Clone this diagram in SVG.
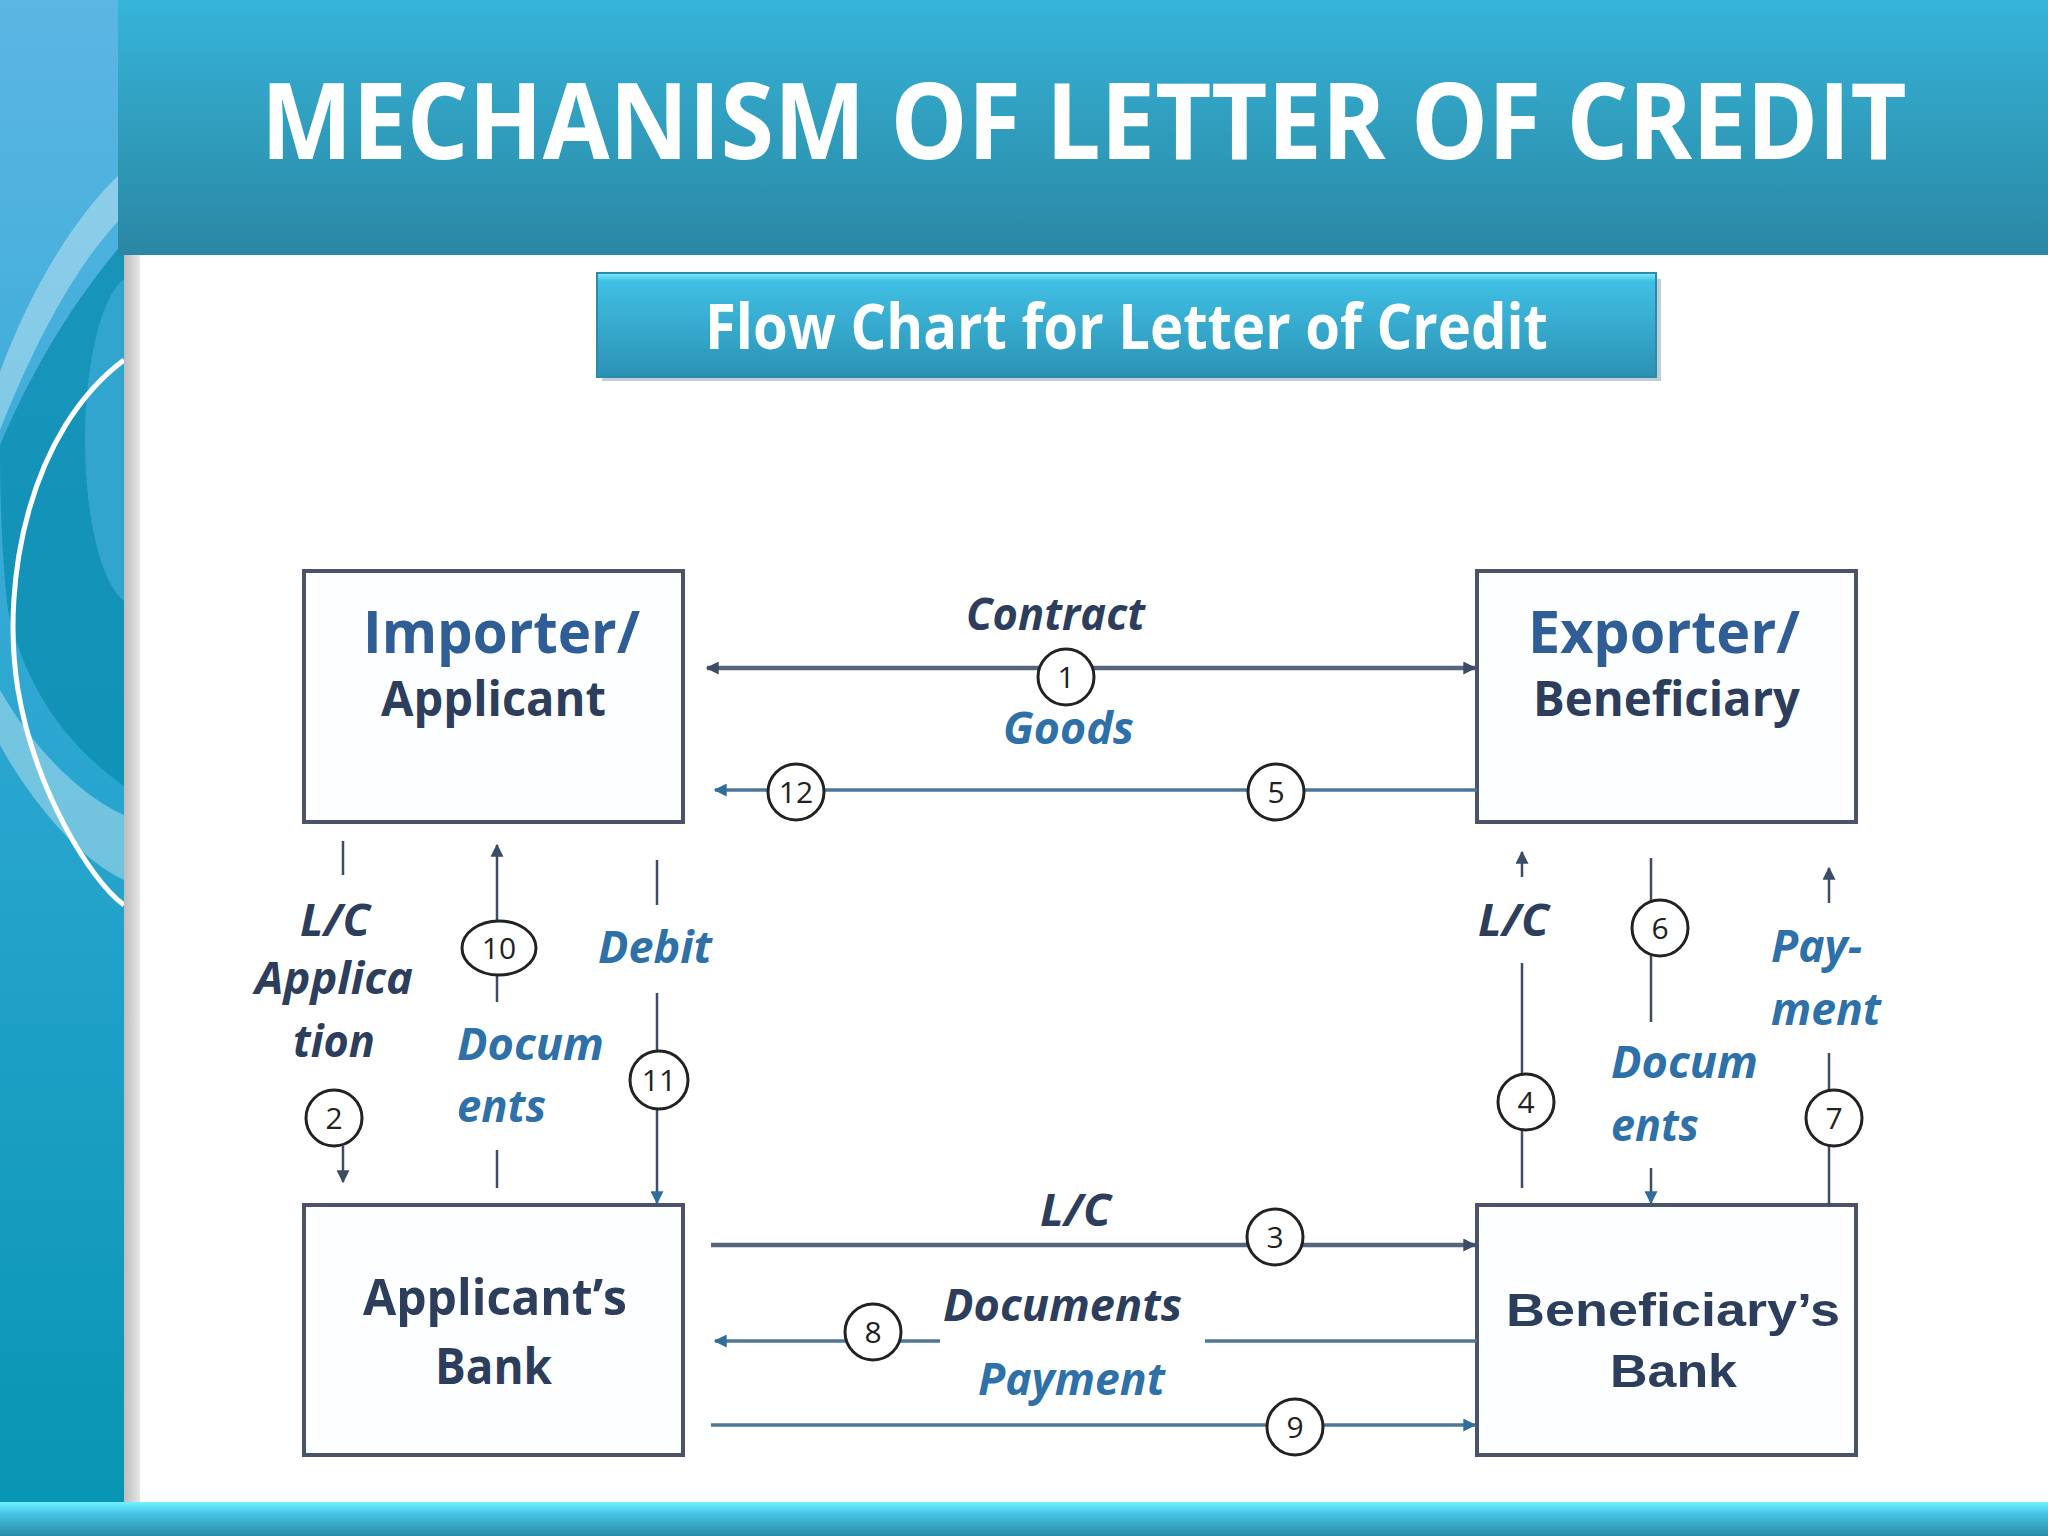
<svg xmlns="http://www.w3.org/2000/svg" width="2048" height="1536" viewBox="0 0 2048 1536">
<defs>
<linearGradient id="gStrip" x1="0" y1="0" x2="0" y2="1">
<stop offset="0" stop-color="#5cb6e4"/><stop offset="0.5" stop-color="#2aa6d0"/><stop offset="1" stop-color="#0895b3"/>
</linearGradient>
<linearGradient id="gHead" x1="0" y1="0" x2="0" y2="1">
<stop offset="0" stop-color="#36b4d9"/><stop offset="1" stop-color="#2a87a3"/>
</linearGradient>
<linearGradient id="gBtn" x1="0" y1="0" x2="0" y2="1">
<stop offset="0" stop-color="#7cf0ff"/><stop offset="0.08" stop-color="#40bfe4"/><stop offset="1" stop-color="#2b92b4"/>
</linearGradient>
<linearGradient id="gBar" x1="0" y1="0" x2="0" y2="1">
<stop offset="0" stop-color="#70f2ff"/><stop offset="0.35" stop-color="#45c4e4"/><stop offset="1" stop-color="#2a8aa6"/>
</linearGradient>
<linearGradient id="gShade" x1="0" y1="0" x2="1" y2="0">
<stop offset="0" stop-color="#bdbdbd"/><stop offset="1" stop-color="#e6e6e6"/>
</linearGradient>
<clipPath id="cStrip"><rect x="0" y="0" width="124" height="1502"/></clipPath>
<marker id="aD" viewBox="0 0 10 10" refX="9" refY="5" markerWidth="14" markerHeight="13" markerUnits="userSpaceOnUse" orient="auto-start-reverse"><path d="M0,0 L10,5 L0,10 z" fill="#3b4c66"/></marker>
<marker id="aB" viewBox="0 0 10 10" refX="9" refY="5" markerWidth="14" markerHeight="13" markerUnits="userSpaceOnUse" orient="auto-start-reverse"><path d="M0,0 L10,5 L0,10 z" fill="#2f6e9c"/></marker>
<style>
.box{fill:#fdfeff;stroke:#4a5466;stroke-width:4}
.nodeA{font-family:"Open Sans","Liberation Sans",sans-serif;font-weight:700;fill:#2f5d95}
.nodeB{font-family:"Open Sans","Liberation Sans",sans-serif;font-weight:700;fill:#2c3e5c}
.nodeC{font-family:"Liberation Sans",Arial,sans-serif;font-weight:700;fill:#2c3e5c}
.lblD{font-family:"Open Sans","Liberation Sans",sans-serif;font-weight:700;font-style:italic;fill:#2c3e5c;font-size:44px}
.lblB{font-family:"Open Sans","Liberation Sans",sans-serif;font-weight:700;font-style:italic;fill:#2e70a8;font-size:44px}
.num{font-family:"Open Sans","Liberation Sans",sans-serif;font-size:30px;fill:#222;text-anchor:middle}
.circ{fill:#fff;stroke:#222;stroke-width:3}
.lnD{stroke:#56657c;stroke-width:4.5;fill:none}
.lnB{stroke:#4d7798;stroke-width:3.5;fill:none}
.lnV{stroke:#3d4d63;stroke-width:2.5;fill:none}
</style>
</defs>

<!-- background decoration -->
<rect x="0" y="0" width="2048" height="1536" fill="#ffffff"/>
<rect x="0" y="0" width="126" height="1502" fill="url(#gStrip)"/>
<g clip-path="url(#cStrip)">
<path d="M0,445 C40,350 90,280 130,235 L130,790 C70,750 25,690 8,610 C2,560 0,500 0,445 Z" fill="#0b8db0" opacity="0.8"/>
<ellipse cx="135" cy="440" rx="50" ry="165" fill="#45b0dc" opacity="0.6"/>
<path d="M0,430 C40,330 80,260 124,215 L124,170 C75,215 30,290 0,372 Z" fill="#ffffff" opacity="0.35"/>
<path d="M0,690 C40,760 90,800 124,815 L124,880 C80,860 30,800 0,745 Z" fill="#ffffff" opacity="0.35"/>
<path d="M124,360 C30,430 0,580 18,690 C35,790 90,880 124,905" fill="none" stroke="#ffffff" stroke-width="5"/>
</g>
<rect x="124" y="255" width="16" height="1247" fill="url(#gShade)"/>
<rect x="118" y="0" width="1930" height="255" fill="url(#gHead)"/>
<rect x="0" y="1502" width="2048" height="34" fill="url(#gBar)"/>

<!-- titles -->
<text transform="translate(261,159) scale(0.85,1)" x="0" y="0" font-family="'Open Sans','Liberation Sans',sans-serif" font-weight="700" font-size="106" fill="#ffffff" textLength="1936" lengthAdjust="spacingAndGlyphs">MECHANISM OF LETTER OF CREDIT</text>
<g id="subtitle">
<rect x="602" y="279" width="1059" height="102" fill="#8aa6b4" opacity="0.55"/>
<rect x="597" y="273" width="1059" height="104" fill="url(#gBtn)" stroke="#2a8bab" stroke-width="2"/>
<text x="705" y="349" font-family="'Open Sans','Liberation Sans',sans-serif" font-weight="700" font-size="62" fill="#ffffff" textLength="843" lengthAdjust="spacingAndGlyphs">Flow Chart for Letter of Credit</text>
</g>

<!-- nodes -->
<g id="importer">
<rect class="box" x="304" y="571" width="379" height="251"/>
<text class="nodeA" x="363" y="653" font-size="59" textLength="277" lengthAdjust="spacingAndGlyphs">Importer/</text>
<text class="nodeB" x="381" y="716" font-size="48" textLength="225" lengthAdjust="spacingAndGlyphs">Applicant</text>
</g>
<g id="exporter">
<rect class="box" x="1477" y="571" width="379" height="251"/>
<text class="nodeA" x="1528" y="653" font-size="59" textLength="272" lengthAdjust="spacingAndGlyphs">Exporter/</text>
<text class="nodeB" x="1533" y="716" font-size="48" textLength="267" lengthAdjust="spacingAndGlyphs">Beneficiary</text>
</g>
<g id="applicants-bank">
<rect class="box" x="304" y="1205" width="379" height="250"/>
<text class="nodeB" x="363" y="1315" font-size="50" textLength="264" lengthAdjust="spacingAndGlyphs">Applicant’s</text>
<text class="nodeB" x="435" y="1384" font-size="50" textLength="117" lengthAdjust="spacingAndGlyphs">Bank</text>
</g>
<g id="beneficiarys-bank">
<rect class="box" x="1477" y="1205" width="379" height="250"/>
<text class="nodeC" x="1506" y="1326" font-size="46" textLength="334" lengthAdjust="spacingAndGlyphs">Beneficiary’s</text>
<text class="nodeC" x="1610" y="1387" font-size="46" textLength="127" lengthAdjust="spacingAndGlyphs">Bank</text>
</g>

<!-- connectors -->
<g id="connectors">
<line class="lnD" x1="707" y1="668" x2="1475" y2="668" marker-start="url(#aD)" marker-end="url(#aD)"/>
<line class="lnB" x1="1477" y1="790" x2="715" y2="790" marker-end="url(#aB)"/>
<line class="lnD" x1="711" y1="1245" x2="1475" y2="1245" marker-end="url(#aD)"/>
<line class="lnB" x1="1477" y1="1341" x2="1205" y2="1341"/>
<line class="lnB" x1="940" y1="1341" x2="715" y2="1341" marker-end="url(#aB)"/>
<line class="lnB" x1="711" y1="1425" x2="1475" y2="1425" marker-end="url(#aB)"/>

<line class="lnV" x1="343" y1="841" x2="343" y2="875"/>
<line class="lnV" x1="343" y1="1146" x2="343" y2="1182" marker-end="url(#aD)"/>
<line class="lnV" x1="497" y1="1002" x2="497" y2="845" marker-end="url(#aD)"/>
<line class="lnV" x1="497" y1="1150" x2="497" y2="1188"/>
<line class="lnV" x1="657" y1="860" x2="657" y2="905"/>
<line class="lnV" x1="657" y1="993" x2="657" y2="1203" marker-end="url(#aB)"/>
<line class="lnV" x1="1522" y1="877" x2="1522" y2="852" marker-end="url(#aD)"/>
<line class="lnV" x1="1522" y1="963" x2="1522" y2="1188"/>
<line class="lnV" x1="1651" y1="858" x2="1651" y2="1022"/>
<line class="lnV" x1="1651" y1="1168" x2="1651" y2="1203" marker-end="url(#aB)"/>
<line class="lnV" x1="1829" y1="903" x2="1829" y2="868" marker-end="url(#aD)"/>
<line class="lnV" x1="1829" y1="1053" x2="1829" y2="1205"/>

<circle class="circ" cx="1066" cy="677" r="28"/><text class="num" x="1066" y="688">1</text>
<circle class="circ" cx="334" cy="1118" r="28"/><text class="num" x="334" y="1129">2</text>
<circle class="circ" cx="1275" cy="1237" r="28"/><text class="num" x="1275" y="1248">3</text>
<circle class="circ" cx="1526" cy="1102" r="28"/><text class="num" x="1526" y="1113">4</text>
<circle class="circ" cx="1276" cy="792" r="28"/><text class="num" x="1276" y="803">5</text>
<circle class="circ" cx="1660" cy="928" r="28"/><text class="num" x="1660" y="939">6</text>
<circle class="circ" cx="1834" cy="1118" r="28"/><text class="num" x="1834" y="1129">7</text>
<circle class="circ" cx="873" cy="1332" r="28"/><text class="num" x="873" y="1343">8</text>
<circle class="circ" cx="1295" cy="1427" r="28"/><text class="num" x="1295" y="1438">9</text>
<ellipse class="circ" cx="499" cy="948" rx="37" ry="27"/><text class="num" x="499" y="959">10</text>
<circle class="circ" cx="659" cy="1080" r="29"/><text class="num" x="659" y="1091">11</text>
<circle class="circ" cx="796" cy="792" r="28"/><text class="num" x="796" y="803">12</text>

<text class="lblD" x="966" y="630" textLength="179" lengthAdjust="spacingAndGlyphs">Contract</text>
<text class="lblB" x="1003" y="744" textLength="131" lengthAdjust="spacingAndGlyphs">Goods</text>
<text class="lblD" x="300" y="936" textLength="70" lengthAdjust="spacingAndGlyphs">L/C</text>
<text class="lblD" x="255" y="994" textLength="158" lengthAdjust="spacingAndGlyphs">Applica</text>
<text class="lblD" x="293" y="1057" textLength="82" lengthAdjust="spacingAndGlyphs">tion</text>
<text class="lblB" x="457" y="1060" textLength="147" lengthAdjust="spacingAndGlyphs">Docum</text>
<text class="lblB" x="457" y="1122" textLength="89" lengthAdjust="spacingAndGlyphs">ents</text>
<text class="lblB" x="598" y="963" textLength="114" lengthAdjust="spacingAndGlyphs">Debit</text>
<text class="lblD" x="1478" y="936" textLength="71" lengthAdjust="spacingAndGlyphs">L/C</text>
<text class="lblB" x="1611" y="1078" textLength="147" lengthAdjust="spacingAndGlyphs">Docum</text>
<text class="lblB" x="1611" y="1141" textLength="88" lengthAdjust="spacingAndGlyphs">ents</text>
<text class="lblB" x="1771" y="962" textLength="91" lengthAdjust="spacingAndGlyphs">Pay-</text>
<text class="lblB" x="1771" y="1025" textLength="110" lengthAdjust="spacingAndGlyphs">ment</text>
<text class="lblD" x="1040" y="1226" textLength="71" lengthAdjust="spacingAndGlyphs">L/C</text>
<text class="lblD" x="943" y="1321" textLength="239" lengthAdjust="spacingAndGlyphs">Documents</text>
<text class="lblB" x="978" y="1395" textLength="187" lengthAdjust="spacingAndGlyphs">Payment</text>
</g>
</svg>
